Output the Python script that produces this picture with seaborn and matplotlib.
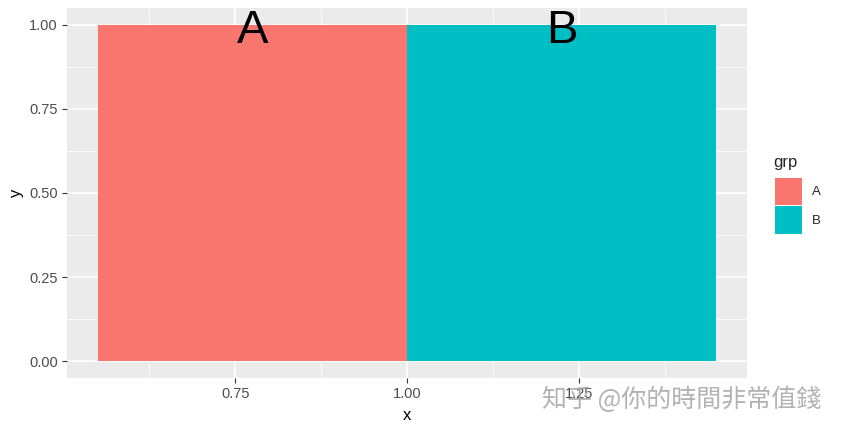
import pandas as pd
import numpy as np
import matplotlib
matplotlib.use("Agg")
import matplotlib.pyplot as plt
from matplotlib.patches import Patch
import seaborn as sns

# data
grp = ["A", "B"]
x_pos = [0.775, 1.225]
y_val = [1.0, 1.0]
colors = ["#F8766D", "#00BFC4"]
x_ticks = [0.75, 1.00, 1.25]
x_labels = ["0.75", "1.00", "1.25"]
y_ticks = [0.00, 0.25, 0.50, 0.75, 1.00]
y_labels = ["0.00", "0.25", "0.50", "0.75", "1.00"]

df = pd.DataFrame({"x": x_pos, "y": y_val, "grp": grp})

sns.set_theme(style="darkgrid", rc={
    "axes.facecolor": "#EBEBEB",
    "grid.color": "white",
    "figure.facecolor": "white",
})
plt.rcParams["font.family"] = ["Liberation Sans", "DejaVu Sans"]

fig = plt.figure(figsize=(8.41, 4.33), dpi=100)
ax = fig.add_axes([67 / 841, 55 / 433, 680 / 841, 370 / 433])

sns.barplot(data=df, x="x", y="y", hue="grp", native_scale=True, width=1.0,
            dodge=False, palette=colors, saturation=1, linewidth=0,
            legend=False, ax=ax)

ax.set_xlim(0.505, 1.495)
ax.set_ylim(-0.05, 1.05)
ax.set_xticks(x_ticks)
ax.set_xticklabels(x_labels)
ax.set_yticks(y_ticks)
ax.set_yticklabels(y_labels)
ax.set_xticks([0.625, 0.875, 1.125, 1.375], minor=True)
ax.set_yticks([0.125, 0.375, 0.625, 0.875], minor=True)
ax.grid(which="major", color="white", linewidth=1.1)
ax.grid(which="minor", color="white", linewidth=0.55)
ax.set_axisbelow(True)
for s in ax.spines.values():
    s.set_visible(False)
ax.tick_params(which="major", length=3.5, width=0.8, color="#333333",
               labelcolor="#4D4D4D", labelsize=10.5, pad=3, bottom=True, left=True)
ax.tick_params(which="minor", length=0, bottom=False, left=False)
ax.set_xlabel("x", fontsize=12, color="black", labelpad=5)
ax.set_ylabel("y", fontsize=12, color="black", labelpad=4)

# big group labels at bar centres
for xi, yi, g in zip(df["x"], df["y"], df["grp"]):
    ax.annotate(g, (xi, yi), xytext=(0, -13), textcoords="offset points",
                ha="center", va="baseline", fontsize=34, color="black")

# legend: title drawn separately for ggplot-like spacing
handles = [Patch(facecolor=c, edgecolor="none") for c in colors]
fig.legend(handles, grp, loc="upper left", borderaxespad=0,
           bbox_to_anchor=(769.5 / 841, 1 - 172.5 / 433), frameon=False,
           fontsize=9.5, handlelength=2.1, handleheight=2.8,
           labelspacing=0.1, handletextpad=0.7)
fig.text(773 / 841, 1 - 162 / 433, "grp", ha="left", va="center", fontsize=12)

# watermark
fig.text(682 / 841, 1 - 400 / 433, "知乎 @你的時間非常值錢", ha="center", va="center",
         fontsize=18, color="#A5A5A5", alpha=0.85,
         family=["Noto Sans CJK TC", "DejaVu Sans"])

fig.savefig("out.png", dpi=100)
